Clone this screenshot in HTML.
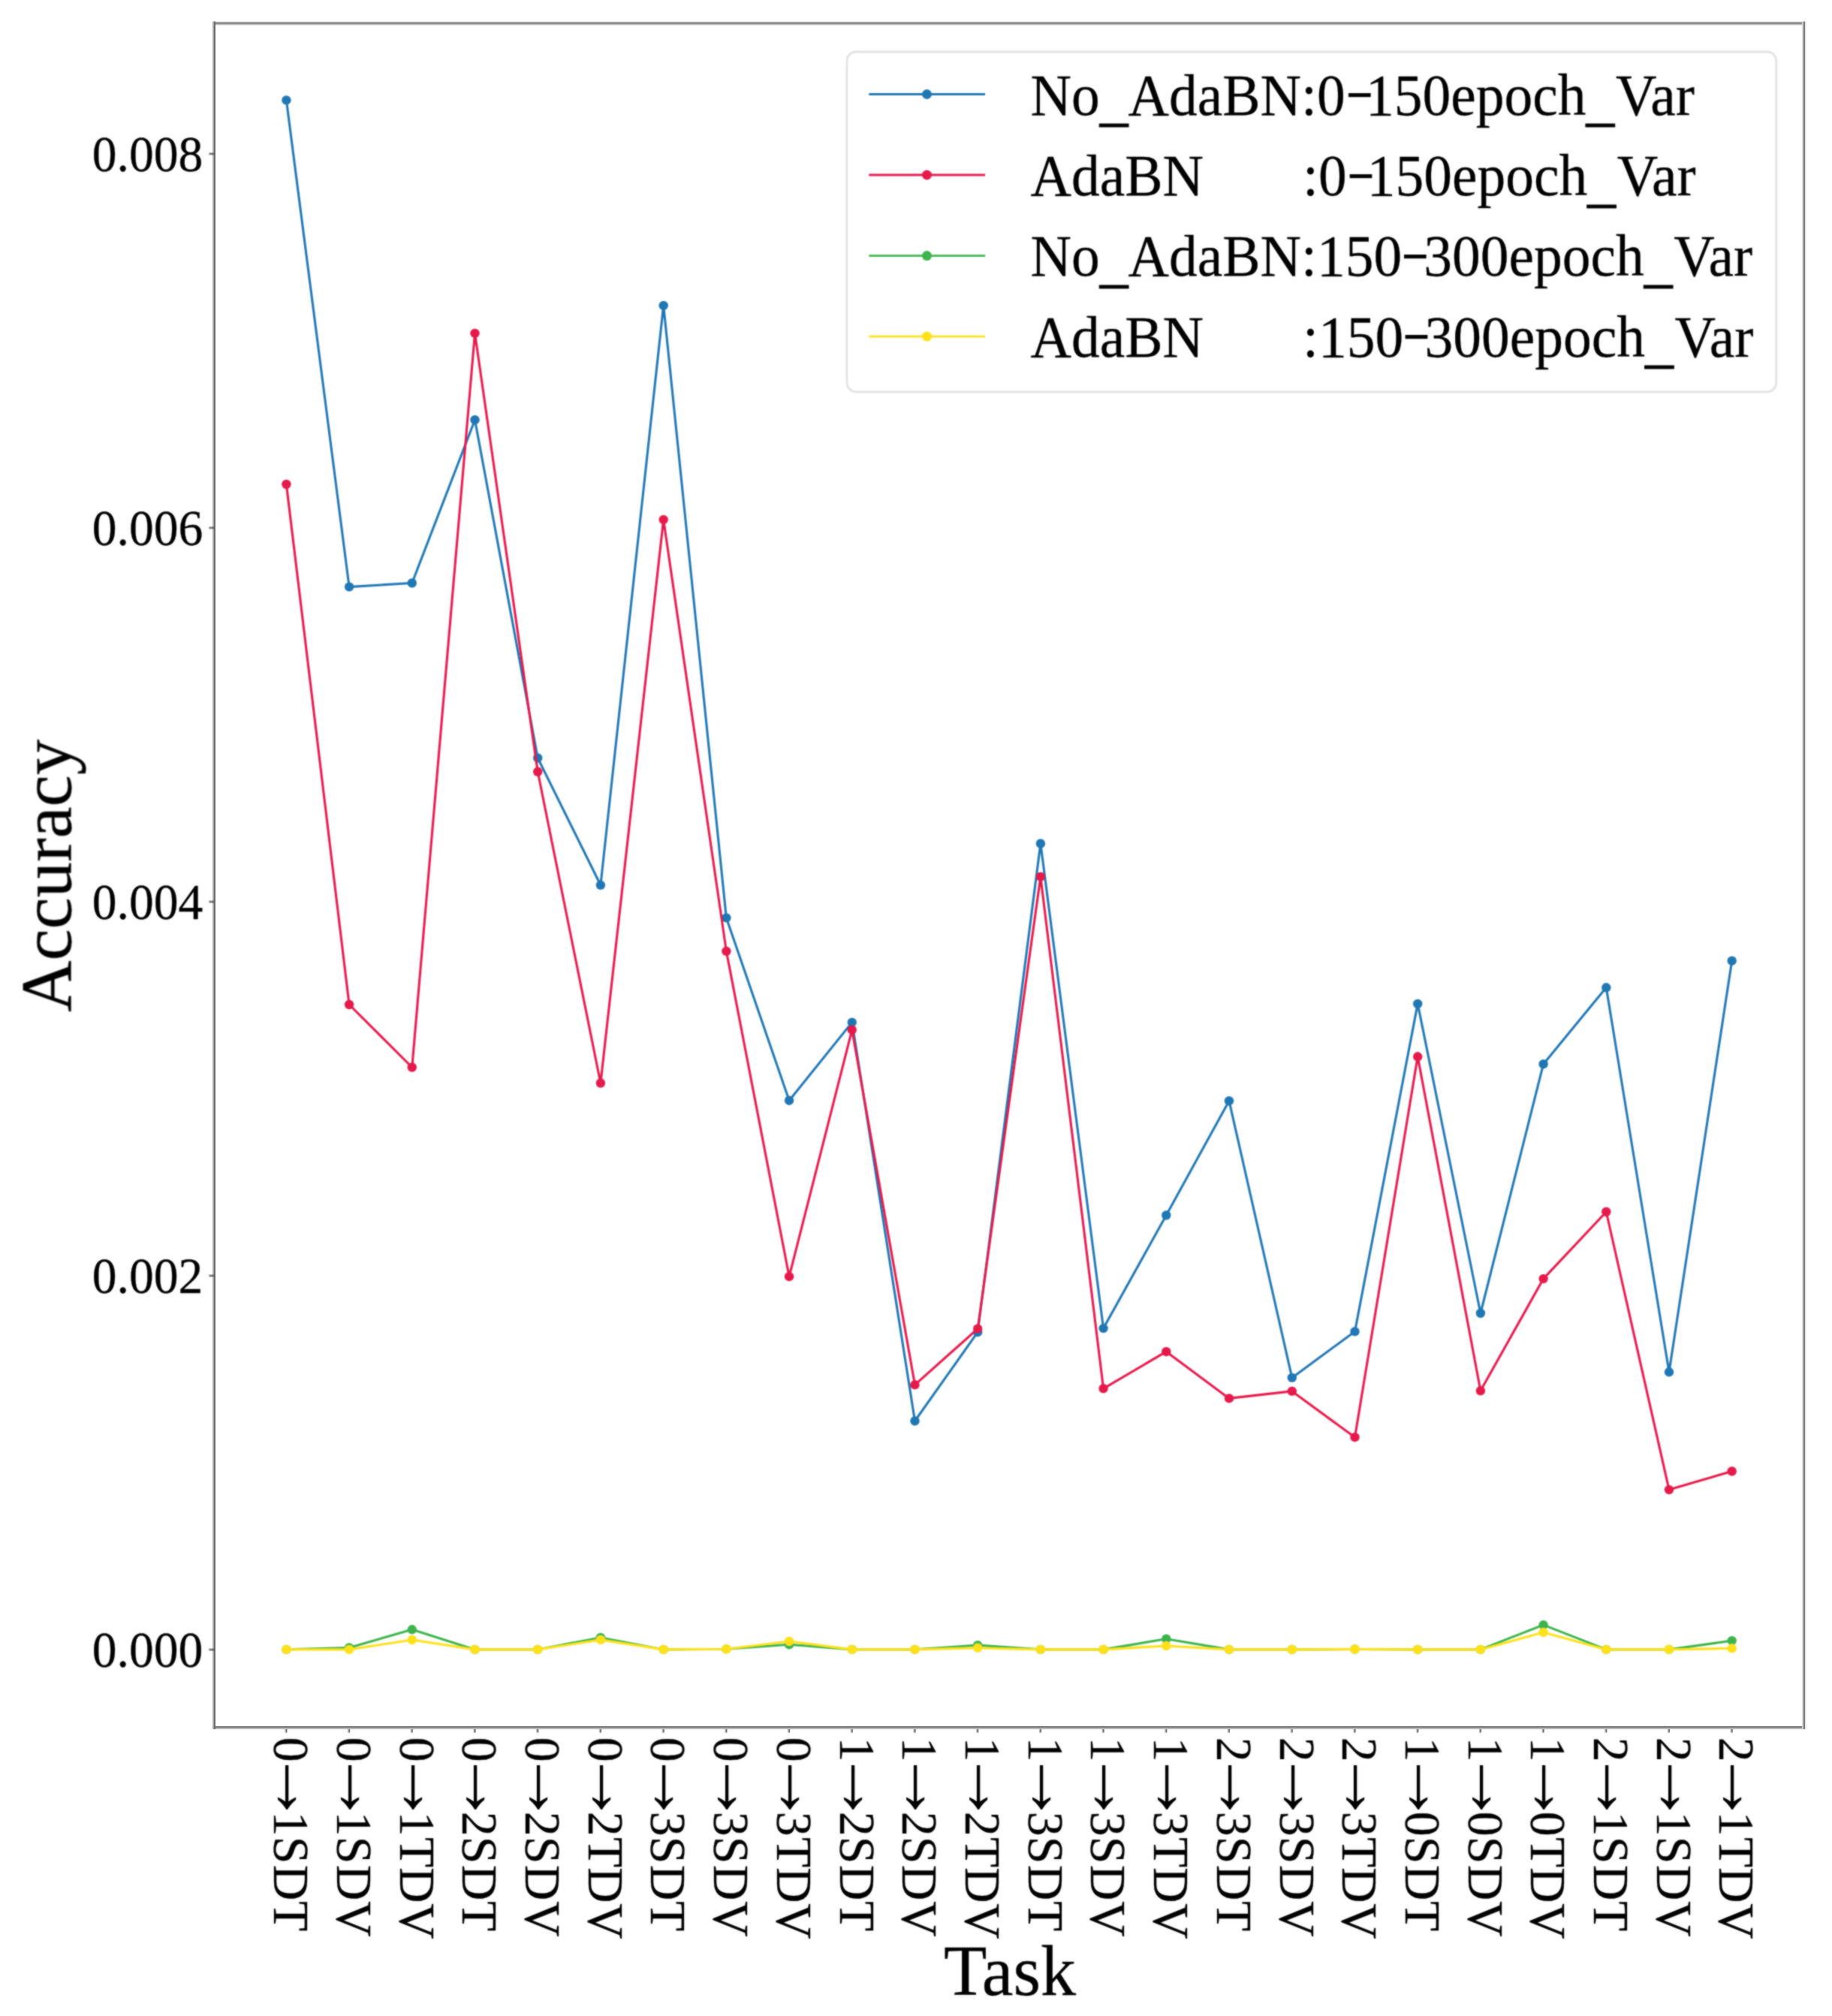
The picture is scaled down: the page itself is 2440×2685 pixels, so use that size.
<!DOCTYPE html>
<html lang="en"><head><meta charset="utf-8"><title>Variance per task</title>
<style>html,body{margin:0;padding:0;background:#fff}body{width:2440px;height:2685px;overflow:hidden}svg{display:block}text{font-family:"Liberation Serif","Times New Roman",Times,serif;fill:#000;stroke:#000;stroke-width:0.3px;white-space:pre}</style>
</head><body>
<svg width="2440" height="2685" viewBox="0 0 2440 2685">
<defs><filter id="soft" x="0" y="0" width="2440" height="2685" filterUnits="userSpaceOnUse" color-interpolation-filters="sRGB"><feGaussianBlur stdDeviation="0.85" result="b"/><feComposite in="SourceGraphic" in2="b" operator="arithmetic" k1="0" k2="0.45" k3="0.55" k4="0"/></filter></defs>
<rect width="2440" height="2685" fill="#fff"/>
<g filter="url(#soft)">
<g fill="#1f77b4" stroke="none"><polyline points="381.4,133.4 465.1,781.6 548.8,776.5 632.5,559.2 716.2,1009.5 799.9,1178.8 883.7,406.9 967.4,1222.4 1051.1,1465.7 1134.8,1361.6 1218.5,1892.5 1302.2,1774.2 1385.9,1123.5 1469.6,1769.1 1553.3,1618.5 1637.0,1466.2 1720.8,1834.9 1804.5,1773.4 1888.2,1336.9 1971.9,1749.0 2055.6,1417.2 2139.3,1315.3 2223.0,1827.3 2306.7,1279.6" fill="none" stroke="#1f77b4" stroke-width="3.1" stroke-linejoin="round" stroke-linecap="butt"/>
<circle cx="381.4" cy="133.4" r="6.2"/><circle cx="465.1" cy="781.6" r="6.2"/><circle cx="548.8" cy="776.5" r="6.2"/><circle cx="632.5" cy="559.2" r="6.2"/><circle cx="716.2" cy="1009.5" r="6.2"/><circle cx="799.9" cy="1178.8" r="6.2"/><circle cx="883.7" cy="406.9" r="6.2"/><circle cx="967.4" cy="1222.4" r="6.2"/><circle cx="1051.1" cy="1465.7" r="6.2"/><circle cx="1134.8" cy="1361.6" r="6.2"/><circle cx="1218.5" cy="1892.5" r="6.2"/><circle cx="1302.2" cy="1774.2" r="6.2"/><circle cx="1385.9" cy="1123.5" r="6.2"/><circle cx="1469.6" cy="1769.1" r="6.2"/><circle cx="1553.3" cy="1618.5" r="6.2"/><circle cx="1637.0" cy="1466.2" r="6.2"/><circle cx="1720.8" cy="1834.9" r="6.2"/><circle cx="1804.5" cy="1773.4" r="6.2"/><circle cx="1888.2" cy="1336.9" r="6.2"/><circle cx="1971.9" cy="1749.0" r="6.2"/><circle cx="2055.6" cy="1417.2" r="6.2"/><circle cx="2139.3" cy="1315.3" r="6.2"/><circle cx="2223.0" cy="1827.3" r="6.2"/><circle cx="2306.7" cy="1279.6" r="6.2"/>
</g>
<g fill="#e6194b" stroke="none"><polyline points="381.4,645.0 465.1,1338.0 548.8,1421.5 632.5,443.9 716.2,1027.8 799.9,1442.5 883.7,692.1 967.4,1266.9 1051.1,1700.2 1134.8,1371.7 1218.5,1844.3 1302.2,1769.7 1385.9,1167.7 1469.6,1849.3 1553.3,1800.2 1637.0,1862.4 1720.8,1852.9 1804.5,1914.2 1888.2,1407.3 1971.9,1852.3 2055.6,1703.1 2139.3,1614.0 2223.0,1984.1 2306.7,1959.5" fill="none" stroke="#e6194b" stroke-width="3.1" stroke-linejoin="round" stroke-linecap="butt"/>
<circle cx="381.4" cy="645.0" r="6.2"/><circle cx="465.1" cy="1338.0" r="6.2"/><circle cx="548.8" cy="1421.5" r="6.2"/><circle cx="632.5" cy="443.9" r="6.2"/><circle cx="716.2" cy="1027.8" r="6.2"/><circle cx="799.9" cy="1442.5" r="6.2"/><circle cx="883.7" cy="692.1" r="6.2"/><circle cx="967.4" cy="1266.9" r="6.2"/><circle cx="1051.1" cy="1700.2" r="6.2"/><circle cx="1134.8" cy="1371.7" r="6.2"/><circle cx="1218.5" cy="1844.3" r="6.2"/><circle cx="1302.2" cy="1769.7" r="6.2"/><circle cx="1385.9" cy="1167.7" r="6.2"/><circle cx="1469.6" cy="1849.3" r="6.2"/><circle cx="1553.3" cy="1800.2" r="6.2"/><circle cx="1637.0" cy="1862.4" r="6.2"/><circle cx="1720.8" cy="1852.9" r="6.2"/><circle cx="1804.5" cy="1914.2" r="6.2"/><circle cx="1888.2" cy="1407.3" r="6.2"/><circle cx="1971.9" cy="1852.3" r="6.2"/><circle cx="2055.6" cy="1703.1" r="6.2"/><circle cx="2139.3" cy="1614.0" r="6.2"/><circle cx="2223.0" cy="1984.1" r="6.2"/><circle cx="2306.7" cy="1959.5" r="6.2"/>
</g>
<g fill="#3cb44b" stroke="none"><polyline points="381.4,2196.9 465.1,2194.5 548.8,2170.3 632.5,2196.9 716.2,2196.9 799.9,2180.9 883.7,2196.9 967.4,2196.3 1051.1,2190.3 1134.8,2196.9 1218.5,2196.9 1302.2,2191.1 1385.9,2196.9 1469.6,2196.9 1553.3,2182.7 1637.0,2196.9 1720.8,2196.9 1804.5,2196.5 1888.2,2196.9 1971.9,2196.9 2055.6,2164.1 2139.3,2196.9 2223.0,2196.9 2306.7,2185.1" fill="none" stroke="#3cb44b" stroke-width="3.1" stroke-linejoin="round" stroke-linecap="butt"/>
<circle cx="381.4" cy="2196.9" r="6.2"/><circle cx="465.1" cy="2194.5" r="6.2"/><circle cx="548.8" cy="2170.3" r="6.2"/><circle cx="632.5" cy="2196.9" r="6.2"/><circle cx="716.2" cy="2196.9" r="6.2"/><circle cx="799.9" cy="2180.9" r="6.2"/><circle cx="883.7" cy="2196.9" r="6.2"/><circle cx="967.4" cy="2196.3" r="6.2"/><circle cx="1051.1" cy="2190.3" r="6.2"/><circle cx="1134.8" cy="2196.9" r="6.2"/><circle cx="1218.5" cy="2196.9" r="6.2"/><circle cx="1302.2" cy="2191.1" r="6.2"/><circle cx="1385.9" cy="2196.9" r="6.2"/><circle cx="1469.6" cy="2196.9" r="6.2"/><circle cx="1553.3" cy="2182.7" r="6.2"/><circle cx="1637.0" cy="2196.9" r="6.2"/><circle cx="1720.8" cy="2196.9" r="6.2"/><circle cx="1804.5" cy="2196.5" r="6.2"/><circle cx="1888.2" cy="2196.9" r="6.2"/><circle cx="1971.9" cy="2196.9" r="6.2"/><circle cx="2055.6" cy="2164.1" r="6.2"/><circle cx="2139.3" cy="2196.9" r="6.2"/><circle cx="2223.0" cy="2196.9" r="6.2"/><circle cx="2306.7" cy="2185.1" r="6.2"/>
</g>
<g fill="#ffe119" stroke="none"><polyline points="381.4,2196.9 465.1,2196.9 548.8,2184.0 632.5,2196.9 716.2,2196.9 799.9,2183.9 883.7,2196.9 967.4,2196.3 1051.1,2186.0 1134.8,2196.9 1218.5,2196.9 1302.2,2194.7 1385.9,2196.9 1469.6,2196.9 1553.3,2192.0 1637.0,2196.9 1720.8,2196.9 1804.5,2196.5 1888.2,2196.9 1971.9,2196.9 2055.6,2174.0 2139.3,2196.9 2223.0,2196.9 2306.7,2195.3" fill="none" stroke="#ffe119" stroke-width="3.1" stroke-linejoin="round" stroke-linecap="butt"/>
<circle cx="381.4" cy="2196.9" r="6.2"/><circle cx="465.1" cy="2196.9" r="6.2"/><circle cx="548.8" cy="2184.0" r="6.2"/><circle cx="632.5" cy="2196.9" r="6.2"/><circle cx="716.2" cy="2196.9" r="6.2"/><circle cx="799.9" cy="2183.9" r="6.2"/><circle cx="883.7" cy="2196.9" r="6.2"/><circle cx="967.4" cy="2196.3" r="6.2"/><circle cx="1051.1" cy="2186.0" r="6.2"/><circle cx="1134.8" cy="2196.9" r="6.2"/><circle cx="1218.5" cy="2196.9" r="6.2"/><circle cx="1302.2" cy="2194.7" r="6.2"/><circle cx="1385.9" cy="2196.9" r="6.2"/><circle cx="1469.6" cy="2196.9" r="6.2"/><circle cx="1553.3" cy="2192.0" r="6.2"/><circle cx="1637.0" cy="2196.9" r="6.2"/><circle cx="1720.8" cy="2196.9" r="6.2"/><circle cx="1804.5" cy="2196.5" r="6.2"/><circle cx="1888.2" cy="2196.9" r="6.2"/><circle cx="1971.9" cy="2196.9" r="6.2"/><circle cx="2055.6" cy="2174.0" r="6.2"/><circle cx="2139.3" cy="2196.9" r="6.2"/><circle cx="2223.0" cy="2196.9" r="6.2"/><circle cx="2306.7" cy="2195.3" r="6.2"/>
</g>
</g>
<g>
<rect x="379.4" y="2302.5" width="1.5" height="5" fill="#b4b4b4"/><rect x="380.9" y="2302.5" width="1.5" height="5" fill="#5e5e5e"/><rect x="379.4" y="2307.5" width="3" height="0.8" fill="#d0d0d0"/>
<rect x="463.1" y="2302.5" width="1.5" height="5" fill="#b4b4b4"/><rect x="464.6" y="2302.5" width="1.5" height="5" fill="#5e5e5e"/><rect x="463.1" y="2307.5" width="3" height="0.8" fill="#d0d0d0"/>
<rect x="546.8" y="2302.5" width="1.5" height="5" fill="#b4b4b4"/><rect x="548.3" y="2302.5" width="1.5" height="5" fill="#5e5e5e"/><rect x="546.8" y="2307.5" width="3" height="0.8" fill="#d0d0d0"/>
<rect x="630.5" y="2302.5" width="1.5" height="5" fill="#b4b4b4"/><rect x="632.0" y="2302.5" width="1.5" height="5" fill="#5e5e5e"/><rect x="630.5" y="2307.5" width="3" height="0.8" fill="#d0d0d0"/>
<rect x="714.2" y="2302.5" width="1.5" height="5" fill="#b4b4b4"/><rect x="715.7" y="2302.5" width="1.5" height="5" fill="#5e5e5e"/><rect x="714.2" y="2307.5" width="3" height="0.8" fill="#d0d0d0"/>
<rect x="797.9" y="2302.5" width="1.5" height="5" fill="#b4b4b4"/><rect x="799.4" y="2302.5" width="1.5" height="5" fill="#5e5e5e"/><rect x="797.9" y="2307.5" width="3" height="0.8" fill="#d0d0d0"/>
<rect x="881.7" y="2302.5" width="1.5" height="5" fill="#b4b4b4"/><rect x="883.2" y="2302.5" width="1.5" height="5" fill="#5e5e5e"/><rect x="881.7" y="2307.5" width="3" height="0.8" fill="#d0d0d0"/>
<rect x="965.4" y="2302.5" width="1.5" height="5" fill="#b4b4b4"/><rect x="966.9" y="2302.5" width="1.5" height="5" fill="#5e5e5e"/><rect x="965.4" y="2307.5" width="3" height="0.8" fill="#d0d0d0"/>
<rect x="1049.1" y="2302.5" width="1.5" height="5" fill="#b4b4b4"/><rect x="1050.6" y="2302.5" width="1.5" height="5" fill="#5e5e5e"/><rect x="1049.1" y="2307.5" width="3" height="0.8" fill="#d0d0d0"/>
<rect x="1132.8" y="2302.5" width="1.5" height="5" fill="#b4b4b4"/><rect x="1134.3" y="2302.5" width="1.5" height="5" fill="#5e5e5e"/><rect x="1132.8" y="2307.5" width="3" height="0.8" fill="#d0d0d0"/>
<rect x="1216.5" y="2302.5" width="1.5" height="5" fill="#b4b4b4"/><rect x="1218.0" y="2302.5" width="1.5" height="5" fill="#5e5e5e"/><rect x="1216.5" y="2307.5" width="3" height="0.8" fill="#d0d0d0"/>
<rect x="1300.2" y="2302.5" width="1.5" height="5" fill="#b4b4b4"/><rect x="1301.7" y="2302.5" width="1.5" height="5" fill="#5e5e5e"/><rect x="1300.2" y="2307.5" width="3" height="0.8" fill="#d0d0d0"/>
<rect x="1383.9" y="2302.5" width="1.5" height="5" fill="#b4b4b4"/><rect x="1385.4" y="2302.5" width="1.5" height="5" fill="#5e5e5e"/><rect x="1383.9" y="2307.5" width="3" height="0.8" fill="#d0d0d0"/>
<rect x="1467.6" y="2302.5" width="1.5" height="5" fill="#b4b4b4"/><rect x="1469.1" y="2302.5" width="1.5" height="5" fill="#5e5e5e"/><rect x="1467.6" y="2307.5" width="3" height="0.8" fill="#d0d0d0"/>
<rect x="1551.3" y="2302.5" width="1.5" height="5" fill="#b4b4b4"/><rect x="1552.8" y="2302.5" width="1.5" height="5" fill="#5e5e5e"/><rect x="1551.3" y="2307.5" width="3" height="0.8" fill="#d0d0d0"/>
<rect x="1635.0" y="2302.5" width="1.5" height="5" fill="#b4b4b4"/><rect x="1636.5" y="2302.5" width="1.5" height="5" fill="#5e5e5e"/><rect x="1635.0" y="2307.5" width="3" height="0.8" fill="#d0d0d0"/>
<rect x="1718.8" y="2302.5" width="1.5" height="5" fill="#b4b4b4"/><rect x="1720.3" y="2302.5" width="1.5" height="5" fill="#5e5e5e"/><rect x="1718.8" y="2307.5" width="3" height="0.8" fill="#d0d0d0"/>
<rect x="1802.5" y="2302.5" width="1.5" height="5" fill="#b4b4b4"/><rect x="1804.0" y="2302.5" width="1.5" height="5" fill="#5e5e5e"/><rect x="1802.5" y="2307.5" width="3" height="0.8" fill="#d0d0d0"/>
<rect x="1886.2" y="2302.5" width="1.5" height="5" fill="#b4b4b4"/><rect x="1887.7" y="2302.5" width="1.5" height="5" fill="#5e5e5e"/><rect x="1886.2" y="2307.5" width="3" height="0.8" fill="#d0d0d0"/>
<rect x="1969.9" y="2302.5" width="1.5" height="5" fill="#b4b4b4"/><rect x="1971.4" y="2302.5" width="1.5" height="5" fill="#5e5e5e"/><rect x="1969.9" y="2307.5" width="3" height="0.8" fill="#d0d0d0"/>
<rect x="2053.6" y="2302.5" width="1.5" height="5" fill="#b4b4b4"/><rect x="2055.1" y="2302.5" width="1.5" height="5" fill="#5e5e5e"/><rect x="2053.6" y="2307.5" width="3" height="0.8" fill="#d0d0d0"/>
<rect x="2137.3" y="2302.5" width="1.5" height="5" fill="#b4b4b4"/><rect x="2138.8" y="2302.5" width="1.5" height="5" fill="#5e5e5e"/><rect x="2137.3" y="2307.5" width="3" height="0.8" fill="#d0d0d0"/>
<rect x="2221.0" y="2302.5" width="1.5" height="5" fill="#b4b4b4"/><rect x="2222.5" y="2302.5" width="1.5" height="5" fill="#5e5e5e"/><rect x="2221.0" y="2307.5" width="3" height="0.8" fill="#d0d0d0"/>
<rect x="2304.7" y="2302.5" width="1.5" height="5" fill="#b4b4b4"/><rect x="2306.2" y="2302.5" width="1.5" height="5" fill="#5e5e5e"/><rect x="2304.7" y="2307.5" width="3" height="0.8" fill="#d0d0d0"/>
<rect x="277.2" y="203.3" width="1.7" height="3.2" fill="#dcdcdc"/><rect x="278.9" y="203.3" width="4.4" height="3.2" fill="#8a8a8a"/>
<rect x="277.2" y="701.4" width="1.7" height="3.2" fill="#dcdcdc"/><rect x="278.9" y="701.4" width="4.4" height="3.2" fill="#8a8a8a"/>
<rect x="277.2" y="1199.4" width="1.7" height="3.2" fill="#dcdcdc"/><rect x="278.9" y="1199.4" width="4.4" height="3.2" fill="#8a8a8a"/>
<rect x="277.2" y="1697.5" width="1.7" height="3.2" fill="#dcdcdc"/><rect x="278.9" y="1697.5" width="4.4" height="3.2" fill="#8a8a8a"/>
<rect x="277.2" y="2195.5" width="1.7" height="3.2" fill="#dcdcdc"/><rect x="278.9" y="2195.5" width="4.4" height="3.2" fill="#8a8a8a"/>
</g>
<g>
<rect x="283.1" y="28.6" width="2120.9" height="1.4" fill="#e2e2e2"/><rect x="283.1" y="29.8" width="2120.9" height="3.6" fill="#b8b8b8"/><rect x="283.1" y="29.8" width="2120.9" height="1.7" fill="#767676"/>
<rect x="283.1" y="2299" width="2120.9" height="3.9" fill="#b2b2b2"/><rect x="283.1" y="2299" width="2120.9" height="1.7" fill="#666666"/>
<rect x="283.1" y="28.6" width="1.9" height="2274.3" fill="#b0b0b0"/><rect x="285" y="28.6" width="1.9" height="2274.3" fill="#686868"/>
<rect x="283.1" y="203.3" width="1.9" height="3.2" fill="#686868"/>
<rect x="283.1" y="701.4" width="1.9" height="3.2" fill="#686868"/>
<rect x="283.1" y="1199.4" width="1.9" height="3.2" fill="#686868"/>
<rect x="283.1" y="1697.5" width="1.9" height="3.2" fill="#686868"/>
<rect x="283.1" y="2195.5" width="1.9" height="3.2" fill="#686868"/>
<rect x="2400.1" y="28.6" width="1.9" height="2274.3" fill="#d0d0d0"/><rect x="2402" y="28.6" width="2" height="2274.3" fill="#747474"/><rect x="2404" y="28.6" width="1.8" height="2274.3" fill="#ececec"/>
</g>
<g filter="url(#soft)">
<g font-size="65.6" text-anchor="end">
<text transform="translate(270.3,227.9) scale(1,1.02)">0.008</text>
<text transform="translate(270.3,726.0) scale(1,1.02)">0.006</text>
<text transform="translate(270.3,1224.0) scale(1,1.02)">0.004</text>
<text transform="translate(270.3,1722.1) scale(1,1.02)">0.002</text>
<text transform="translate(270.3,2220.1) scale(1,1.02)">0.000</text>
</g>
<g font-size="65.6">
<text transform="translate(365.1,2314.9) rotate(90) scale(1,1.03)"><tspan x="-1.2">0</tspan><tspan x="15.5" font-size="100" stroke="none">→</tspan><tspan x="97.9 130.95 168.8 217.0">1SDT</tspan></text>
<text transform="translate(448.8,2314.9) rotate(90) scale(1,1.03)"><tspan x="-1.2">0</tspan><tspan x="15.5" font-size="100" stroke="none">→</tspan><tspan x="97.9 130.95 168.8 217.3">1SDV</tspan></text>
<text transform="translate(532.5,2314.9) rotate(90) scale(1,1.03)"><tspan x="-1.2">0</tspan><tspan x="15.5" font-size="100" stroke="none">→</tspan><tspan x="97.9 132.05 172.2 220.4">1TDV</tspan></text>
<text transform="translate(616.2,2314.9) rotate(90) scale(1,1.03)"><tspan x="-1.2">0</tspan><tspan x="15.5" font-size="100" stroke="none">→</tspan><tspan x="97.9 130.95 168.8 217.0">2SDT</tspan></text>
<text transform="translate(699.9,2314.9) rotate(90) scale(1,1.03)"><tspan x="-1.2">0</tspan><tspan x="15.5" font-size="100" stroke="none">→</tspan><tspan x="97.9 130.95 168.8 217.3">2SDV</tspan></text>
<text transform="translate(783.6,2314.9) rotate(90) scale(1,1.03)"><tspan x="-1.2">0</tspan><tspan x="15.5" font-size="100" stroke="none">→</tspan><tspan x="97.9 132.05 172.2 220.4">2TDV</tspan></text>
<text transform="translate(867.4,2314.9) rotate(90) scale(1,1.03)"><tspan x="-1.2">0</tspan><tspan x="15.5" font-size="100" stroke="none">→</tspan><tspan x="97.9 130.95 168.8 217.0">3SDT</tspan></text>
<text transform="translate(951.1,2314.9) rotate(90) scale(1,1.03)"><tspan x="-1.2">0</tspan><tspan x="15.5" font-size="100" stroke="none">→</tspan><tspan x="97.9 130.95 168.8 217.3">3SDV</tspan></text>
<text transform="translate(1034.8,2314.9) rotate(90) scale(1,1.03)"><tspan x="-1.2">0</tspan><tspan x="15.5" font-size="100" stroke="none">→</tspan><tspan x="97.9 132.05 172.2 220.4">3TDV</tspan></text>
<text transform="translate(1118.5,2314.9) rotate(90) scale(1,1.03)"><tspan x="-1.2">1</tspan><tspan x="15.5" font-size="100" stroke="none">→</tspan><tspan x="97.9 130.95 168.8 217.0">2SDT</tspan></text>
<text transform="translate(1202.2,2314.9) rotate(90) scale(1,1.03)"><tspan x="-1.2">1</tspan><tspan x="15.5" font-size="100" stroke="none">→</tspan><tspan x="97.9 130.95 168.8 217.3">2SDV</tspan></text>
<text transform="translate(1285.9,2314.9) rotate(90) scale(1,1.03)"><tspan x="-1.2">1</tspan><tspan x="15.5" font-size="100" stroke="none">→</tspan><tspan x="97.9 132.05 172.2 220.4">2TDV</tspan></text>
<text transform="translate(1369.6,2314.9) rotate(90) scale(1,1.03)"><tspan x="-1.2">1</tspan><tspan x="15.5" font-size="100" stroke="none">→</tspan><tspan x="97.9 130.95 168.8 217.0">3SDT</tspan></text>
<text transform="translate(1453.3,2314.9) rotate(90) scale(1,1.03)"><tspan x="-1.2">1</tspan><tspan x="15.5" font-size="100" stroke="none">→</tspan><tspan x="97.9 130.95 168.8 217.3">3SDV</tspan></text>
<text transform="translate(1537.0,2314.9) rotate(90) scale(1,1.03)"><tspan x="-1.2">1</tspan><tspan x="15.5" font-size="100" stroke="none">→</tspan><tspan x="97.9 132.05 172.2 220.4">3TDV</tspan></text>
<text transform="translate(1620.7,2314.9) rotate(90) scale(1,1.03)"><tspan x="-1.2">2</tspan><tspan x="15.5" font-size="100" stroke="none">→</tspan><tspan x="97.9 130.95 168.8 217.0">3SDT</tspan></text>
<text transform="translate(1704.5,2314.9) rotate(90) scale(1,1.03)"><tspan x="-1.2">2</tspan><tspan x="15.5" font-size="100" stroke="none">→</tspan><tspan x="97.9 130.95 168.8 217.3">3SDV</tspan></text>
<text transform="translate(1788.2,2314.9) rotate(90) scale(1,1.03)"><tspan x="-1.2">2</tspan><tspan x="15.5" font-size="100" stroke="none">→</tspan><tspan x="97.9 132.05 172.2 220.4">3TDV</tspan></text>
<text transform="translate(1871.9,2314.9) rotate(90) scale(1,1.03)"><tspan x="-1.2">1</tspan><tspan x="15.5" font-size="100" stroke="none">→</tspan><tspan x="97.9 130.95 168.8 217.0">0SDT</tspan></text>
<text transform="translate(1955.6,2314.9) rotate(90) scale(1,1.03)"><tspan x="-1.2">1</tspan><tspan x="15.5" font-size="100" stroke="none">→</tspan><tspan x="97.9 130.95 168.8 217.3">0SDV</tspan></text>
<text transform="translate(2039.3,2314.9) rotate(90) scale(1,1.03)"><tspan x="-1.2">1</tspan><tspan x="15.5" font-size="100" stroke="none">→</tspan><tspan x="97.9 132.05 172.2 220.4">0TDV</tspan></text>
<text transform="translate(2123.0,2314.9) rotate(90) scale(1,1.03)"><tspan x="-1.2">2</tspan><tspan x="15.5" font-size="100" stroke="none">→</tspan><tspan x="97.9 130.95 168.8 217.0">1SDT</tspan></text>
<text transform="translate(2206.7,2314.9) rotate(90) scale(1,1.03)"><tspan x="-1.2">2</tspan><tspan x="15.5" font-size="100" stroke="none">→</tspan><tspan x="97.9 130.95 168.8 217.3">1SDV</tspan></text>
<text transform="translate(2290.4,2314.9) rotate(90) scale(1,1.03)"><tspan x="-1.2">2</tspan><tspan x="15.5" font-size="100" stroke="none">→</tspan><tspan x="97.9 132.05 172.2 220.4">1TDV</tspan></text>
</g>
<text font-size="94" text-anchor="middle" transform="translate(1345,2657) scale(1,1.01)">Task</text>
<text font-size="94.8" text-anchor="middle" transform="translate(94.4,1166.4) rotate(-90) scale(1,1.012)">Accuracy</text>
<rect x="1128" y="69" width="1237.8" height="452.8" rx="12" ry="12" fill="#fff" fill-opacity="0.8" stroke="#e2e2e2" stroke-width="2.8"/>
<line x1="1157.3" y1="125.5" x2="1312.1" y2="125.5" stroke="#1f77b4" stroke-width="2.9"/><circle cx="1234.5" cy="125.5" r="6.5" fill="#1f77b4"/>
<text xml:space="preserve" font-size="75.5" transform="translate(1372.4,152.7) scale(1,1.03)"><tspan x="0">No<tspan dy="6.4" stroke="#000" stroke-width="0.9">_</tspan><tspan dy="-6.4">AdaBN:0</tspan></tspan><tspan x="419.6" dy="-10.2" font-size="64" textLength="37.4" lengthAdjust="spacingAndGlyphs">-</tspan><tspan x="446.6" dy="10.2">150epoch</tspan><tspan dy="6.4" stroke="#000" stroke-width="0.9">_</tspan><tspan dx="1.8" dy="-6.4">Var</tspan></text>
<line x1="1157.3" y1="233.0" x2="1312.1" y2="233.0" stroke="#e6194b" stroke-width="2.9"/><circle cx="1234.5" cy="233.0" r="6.5" fill="#e6194b"/>
<text xml:space="preserve" font-size="75.5" transform="translate(1372.4,260.0) scale(1,1.03)"><tspan x="0">AdaBN       :0</tspan><tspan x="421.4" dy="-10.2" font-size="64" textLength="37.4" lengthAdjust="spacingAndGlyphs">-</tspan><tspan x="448.4" dy="10.2">150epoch</tspan><tspan dy="6.4" stroke="#000" stroke-width="0.9">_</tspan><tspan dx="1.8" dy="-6.4">Var</tspan></text>
<line x1="1157.3" y1="340.6" x2="1312.1" y2="340.6" stroke="#3cb44b" stroke-width="2.9"/><circle cx="1234.5" cy="340.6" r="6.5" fill="#3cb44b"/>
<text xml:space="preserve" font-size="75.5" transform="translate(1372.4,367.3) scale(1,1.03)"><tspan x="0">No<tspan dy="6.4" stroke="#000" stroke-width="0.9">_</tspan><tspan dy="-6.4">AdaBN:150</tspan></tspan><tspan x="493.6" dy="-10.2" font-size="64" textLength="37.4" lengthAdjust="spacingAndGlyphs">-</tspan><tspan x="523.9" dy="10.2">300epoch</tspan><tspan dy="6.4" stroke="#000" stroke-width="0.9">_</tspan><tspan dx="1.8" dy="-6.4">Var</tspan></text>
<line x1="1157.3" y1="448.1" x2="1312.1" y2="448.1" stroke="#ffe119" stroke-width="2.9"/><circle cx="1234.5" cy="448.1" r="6.5" fill="#ffe119"/>
<text xml:space="preserve" font-size="75.5" transform="translate(1372.4,474.7) scale(1,1.03)"><tspan x="0">AdaBN       :150</tspan><tspan x="495.4" dy="-10.2" font-size="64" textLength="37.4" lengthAdjust="spacingAndGlyphs">-</tspan><tspan x="525.1" dy="10.2">300epoch</tspan><tspan dy="6.4" stroke="#000" stroke-width="0.9">_</tspan><tspan dx="1.8" dy="-6.4">Var</tspan></text>
</g>
</svg>
</body></html>
